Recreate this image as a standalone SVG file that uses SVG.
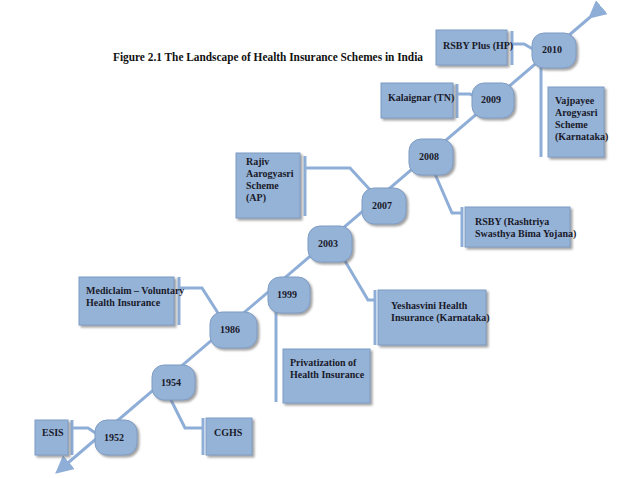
<svg xmlns="http://www.w3.org/2000/svg" width="638" height="478" viewBox="0 0 638 478">
<style>
.b{fill:#95b3d7;stroke:#7f9cc4;stroke-width:1;filter:url(#sh)}
.c{fill:none;stroke:#8eaed8;stroke-width:3}
.t{font-family:"Liberation Serif",serif;font-weight:bold;font-size:10px;fill:#1a1a2a}
</style>
<defs>
<filter id="sh" x="-20%" y="-20%" width="150%" height="150%"><feDropShadow dx="2" dy="2" stdDeviation="1.2" flood-color="#666" flood-opacity="0.6"/></filter>
<marker id="ar" markerWidth="6" markerHeight="6" refX="3" refY="3" orient="auto" markerUnits="strokeWidth"><path d="M0,0 L6,3 L0,6 z" fill="#8eaed8"/></marker>
</defs>
<rect width="638" height="478" fill="#fff"/>
<text x="113" y="61" font-family="Liberation Serif,serif" font-weight="bold" font-size="13" textLength="310" lengthAdjust="spacingAndGlyphs" fill="#111">Figure 2.1 The Landscape of Health Insurance Schemes in India</text>
<g id="connectors">
<line class="c" x1="595" y1="13" x2="62" y2="468" marker-end="url(#ar)" marker-start="url(#ar)"/>
<polyline class="c" points="106,440 88,428 72,428"/><line class="c" x1="72" y1="420" x2="72" y2="455"/>
<polyline class="c" points="170,398 185,428 203,428"/><line class="c" x1="203" y1="418" x2="203" y2="455"/>
<polyline class="c" points="218,313 202,288 179,288"/><line class="c" x1="179" y1="277" x2="179" y2="325"/>
<line class="c" x1="276" y1="312" x2="276" y2="402"/>
<polyline class="c" points="345,261 368,300 374,300"/><line class="c" x1="375" y1="290" x2="375" y2="345"/>
<polyline class="c" points="372,192 350,168 306,168"/><line class="c" x1="305" y1="156" x2="305" y2="216"/>
<polyline class="c" points="435,174 452,213 461,213"/><line class="c" x1="462" y1="207" x2="462" y2="247"/>
<polyline class="c" points="480,98 470,94 458,94"/><line class="c" x1="457" y1="84" x2="457" y2="118"/>
<polyline class="c" points="538,52 524,44 513,44"/><line class="c" x1="512" y1="31" x2="512" y2="65"/>
<line class="c" x1="541" y1="66" x2="541" y2="157"/>
</g>
<g id="n1952"><rect class="b" x="95" y="420" width="42" height="35" rx="12"/><text class="t" x="104" y="441">1952</text></g>
<g id="n1954"><rect class="b" x="152" y="365" width="43" height="35" rx="12"/><text class="t" x="161" y="386">1954</text></g>
<g id="n1986"><rect class="b" x="210" y="312" width="47" height="36" rx="12"/><text class="t" x="220" y="333">1986</text></g>
<g id="n1999"><rect class="b" x="268" y="277" width="42" height="36" rx="12"/><text class="t" x="277" y="298">1999</text></g>
<g id="n2003"><rect class="b" x="308" y="226" width="44" height="36" rx="12"/><text class="t" x="318" y="247">2003</text></g>
<g id="n2007"><rect class="b" x="362" y="188" width="44" height="36" rx="12"/><text class="t" x="372" y="209">2007</text></g>
<g id="n2008"><rect class="b" x="409" y="139" width="44" height="36" rx="12"/><text class="t" x="419" y="160">2008</text></g>
<g id="n2009"><rect class="b" x="472" y="83" width="42" height="35" rx="12"/><text class="t" x="481" y="103">2009</text></g>
<g id="n2010"><rect class="b" x="532" y="33" width="44" height="35" rx="12"/><text class="t" x="542" y="53">2010</text></g>
<g id="esis"><rect class="b" x="35" y="420" width="33" height="35"/><text class="t" x="42" y="436">ESIS</text></g>
<g id="cghs"><rect class="b" x="206" y="418" width="46" height="37"/><text class="t" x="214" y="436">CGHS</text></g>
<g id="mediclaim"><rect class="b" x="79" y="277" width="95" height="48"/><text class="t" x="86" y="294">Mediclaim – Voluntary</text><text class="t" x="86" y="306">Health Insurance</text></g>
<g id="privatization"><rect class="b" x="283" y="349" width="87" height="54"/><text class="t" x="290" y="366">Privatization of</text><text class="t" x="290" y="378">Health Insurance</text></g>
<g id="yeshasvini"><rect class="b" x="378" y="290" width="108" height="55"/><text class="t" x="391" y="309">Yeshasvini Health</text><text class="t" x="391" y="321">Insurance (Karnataka)</text></g>
<g id="rajiv"><rect class="b" x="236" y="153" width="64" height="65"/><text class="t" x="246" y="165">Rajiv</text><text class="t" x="246" y="177">Aarogyasri</text><text class="t" x="246" y="189">Scheme</text><text class="t" x="246" y="201">(AP)</text></g>
<g id="rsby"><rect class="b" x="465" y="207" width="105" height="40"/><text class="t" x="475" y="225">RSBY (Rashtriya</text><text class="t" x="475" y="237">Swasthya Bima Yojana)</text></g>
<g id="kalaignar"><rect class="b" x="381" y="83" width="72" height="35"/><text class="t" x="388" y="101">Kalaignar (TN)</text></g>
<g id="rsbyplus"><rect class="b" x="436" y="30" width="71" height="35"/><text class="t" x="443" y="49">RSBY Plus (HP)</text></g>
<g id="vajpayee"><rect class="b" x="548" y="87" width="56" height="70"/><text class="t" x="555" y="104">Vajpayee</text><text class="t" x="555" y="116">Arogyasri</text><text class="t" x="555" y="128">Scheme</text><text class="t" x="555" y="140" font-weight="normal">(Karnataka)</text></g>
</svg>
